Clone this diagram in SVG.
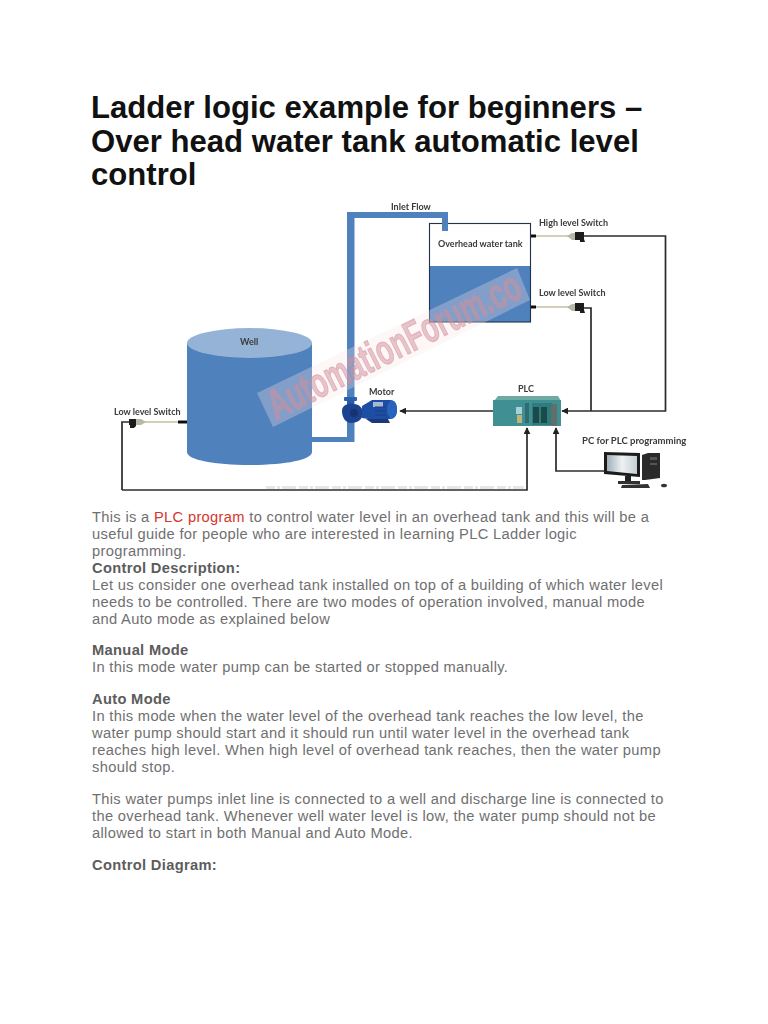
<svg xmlns="http://www.w3.org/2000/svg" width="768" height="1024" viewBox="0 0 768 1024">
<style>
text{font-family:"Liberation Sans",Arial,sans-serif}
.t{font-size:31.100px;font-weight:700;fill:#111}
.b{font-size:14.7px;fill:#707070;letter-spacing:.32px}
.h{font-weight:700;fill:#5c5c5c}
.l{font-size:9px;font-weight:700;fill:#3a3a3a;font-family:Lato,"Liberation Sans",sans-serif}
.w{fill:none;stroke:#2b2b2b;stroke-width:1.7}
.s{fill:none;stroke:#a89f78;stroke-width:1.2}
.p{fill:#4f81bd}
</style>
<defs>
<filter id="soft" x="-5%" y="-5%" width="110%" height="110%"><feGaussianBlur stdDeviation="0.5"/></filter>
<linearGradient id="scr" x1="0" x2="1" y1="0" y2="0"><stop offset="0" stop-color="#9fb0b8"/><stop offset=".5" stop-color="#eef2f4"/><stop offset="1" stop-color="#c4cfd4"/></linearGradient>
<marker id="au" viewBox="0 0 10 10" refX="9" refY="5" markerWidth="7" markerHeight="7" markerUnits="userSpaceOnUse" orient="auto"><path d="M0 0L10 5L0 10z" fill="#222"/></marker>
</defs>
<rect width="768" height="1024" fill="#fff"/>
<g id="title"><text class="t" x="91" y="118">Ladder logic example for beginners –</text><text class="t" x="91" y="152">Over head water tank automatic level</text><text class="t" x="91" y="185">control</text></g>
<g filter="url(#soft)">
<g id="well"><path class="p" d="M187 343V452C187 460 215 465 249.500 465S312 460 312 452V343z"/><ellipse cx="249.500" cy="343" rx="62.500" ry="15" fill="#95b3d7"/><text class="l" x="240" y="345">Well</text></g>
<g id="pipe"><path class="p" d="M312 437H347V212H448V231H442V218H354.500V442H312z"/><text class="l" x="391" y="210">Inlet Flow</text></g>
<g id="tank"><rect x="429.500" y="266" width="101" height="56" fill="#4f81bd"/><rect x="429.500" y="223.500" width="101" height="98.500" fill="none" stroke="#20304a" stroke-width="1.100"/><rect x="442" y="223" width="6" height="8" fill="#4f81bd"/><text class="l" x="438" y="247">Overhead water tank</text></g>
<g id="connectors">
<path class="w" d="M122 490H527V428" marker-end="url(#au)"/>
<path class="w" d="M122 490V422H130"/>
<path class="w" d="M606 471H556V428" marker-end="url(#au)"/>
<path class="w" d="M584 236H665.500V411H562" marker-end="url(#au)"/>
<path class="w" d="M584 308H591V411"/>
<path class="w" d="M493 411H400" marker-end="url(#au)"/>
<path class="s" d="M535 236H570M535 307H570M143 422H178"/>
</g>
<g id="high-switch"><rect x="531" y="234.500" width="5" height="3" fill="#111"/><path d="M567 236L572 233H576V240H572z" fill="#b8b8a8"/><path d="M575 232H584V239L585 242H580V240H575z" fill="#1c1c1c"/><text class="l" x="539" y="226">High level Switch</text></g>
<g id="low-switch"><rect x="531" y="305.500" width="5" height="3" fill="#111"/><path d="M567 307L572 304H576V311H572z" fill="#b8b8a8"/><path d="M575 303H584V310L585 313H580V311H575z" fill="#1c1c1c"/><text class="l" x="539" y="296">Low level Switch</text></g>
<g id="well-switch"><rect x="178" y="420.500" width="9" height="3" fill="#111"/><path d="M146 422L141 419H136V425H141z" fill="#b8b8a8"/><path d="M129 419H136V426L134 428H130V425H129z" fill="#1c1c1c"/><text class="l" x="114" y="415">Low level Switch</text></g>
<g id="motor"><rect x="344" y="397" width="13" height="4" rx="1" fill="#2a62b0"/><rect x="347" y="400" width="7" height="8" fill="#2a5aa8"/><path d="M342 411C342 405 348 403 354 404C359 404 363 408 363 413C363 419 358 423 351 423C346 423 342 418 342 411z" fill="#1f4391"/><circle cx="354" cy="413" r="4" fill="#17356f"/><path d="M362 406L372 400H390C395 400 397 404 397 410C397 416 394 419 390 419H368L362 418z" fill="#1e4fa3"/><ellipse cx="392" cy="409.500" rx="5" ry="9" fill="#2a63bd"/><rect x="373" y="402" width="10" height="5" fill="#a9b9d3"/><path d="M375 407H386M375 411H386M375 415H386" stroke="#173a80" stroke-width="1"/><path d="M366 419H388L390 423H372z" fill="#1a3778"/><text class="l" x="369" y="395">Motor</text></g>
<g id="plc"><path d="M494 401L498 396H558L561 401z" fill="#6fa8a4"/><rect x="493" y="400" width="68" height="26" fill="#3f8f92"/><rect x="516" y="407" width="6" height="7" fill="#a8d0d8"/><rect x="517" y="415" width="5" height="8" fill="#bdb678"/><rect x="525" y="403" width="4" height="20" fill="#2e6e70"/><rect x="532" y="403" width="20" height="22" fill="#2f7b7c"/><rect x="533" y="407" width="6" height="16" fill="#1f4a4a"/><rect x="541" y="407" width="6" height="16" fill="#1f4a4a"/><rect x="551" y="404" width="6" height="22" fill="#5f6f6a"/><text class="l" x="518" y="392">PLC</text></g>
<g id="pc"><path d="M604 452L640 453V477L604 474z" fill="#1d1d1d"/><path d="M607 455L637 456V474L607 471z" fill="url(#scr)"/><path d="M625 476H631V481H625z" fill="#222"/><path d="M618 481H640V484H618z" fill="#333"/><path d="M642 455L648 453H660V478L645 480H642z" fill="#2a2a2a"/><rect x="650" y="457" width="7" height="3" fill="#555"/><rect x="650" y="463" width="7" height="2" fill="#555"/><path d="M622 485L648 484L650 488H621z" fill="#333"/><ellipse cx="664" cy="485.500" rx="3" ry="1.800" fill="#333"/><text class="l" x="582" y="444" style="font-size:9.500px">PC for PLC programming</text></g>
<g id="watermark"><path d="M257 393L517 268L530 300L273 427z" fill="#fbe3e4" fill-opacity=".3"/><text transform="translate(276 420) rotate(-26.500)" font-size="42" font-weight="700" fill="#d2909c" fill-opacity=".5" stroke="#d2909c" stroke-opacity=".5" stroke-width="1.200" textLength="278" lengthAdjust="spacingAndGlyphs">AutomationForum.co</text></g>
<path d="M266 487.500H524" stroke="#e6e6e6" stroke-width="3" stroke-dasharray="9 2 3 2 14 3" fill="none"/>
</g>
<g id="body">
<text class="b" x="92" y="522">This is a <tspan fill="#d8342c">PLC program</tspan> to control water level in an overhead tank and this will be a</text>
<text class="b" x="92" y="539">useful guide for people who are interested in learning PLC Ladder logic</text>
<text class="b" x="92" y="556">programming.</text>
<text class="b h" x="92" y="573">Control Description:</text>
<text class="b" x="92" y="590">Let us consider one overhead tank installed on top of a building of which water level</text>
<text class="b" x="92" y="607">needs to be controlled. There are two modes of operation involved, manual mode</text>
<text class="b" x="92" y="624">and Auto mode as explained below</text>
<text class="b h" x="92" y="655">Manual Mode</text>
<text class="b" x="92" y="672">In this mode water pump can be started or stopped manually.</text>
<text class="b h" x="92" y="704">Auto Mode</text>
<text class="b" x="92" y="721">In this mode when the water level of the overhead tank reaches the low level, the</text>
<text class="b" x="92" y="738">water pump should start and it should run until water level in the overhead tank</text>
<text class="b" x="92" y="755">reaches high level. When high level of overhead tank reaches, then the water pump</text>
<text class="b" x="92" y="772">should stop.</text>
<text class="b" x="92" y="804">This water pumps inlet line is connected to a well and discharge line is connected to</text>
<text class="b" x="92" y="821">the overhead tank. Whenever well water level is low, the water pump should not be</text>
<text class="b" x="92" y="838">allowed to start in both Manual and Auto Mode.</text>
<text class="b h" x="92" y="870">Control Diagram:</text>
</g>
</svg>
